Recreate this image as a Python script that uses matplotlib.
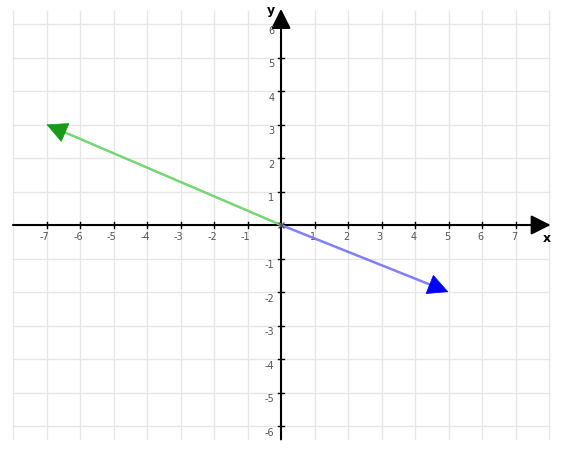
import matplotlib
matplotlib.use("Agg")
import matplotlib.pyplot as plt
import numpy as np

vec_ends_x = [-7, 5]
vec_ends_y = [3, -2]
vec_colors = ["#77d477", "#8080ff"]
head_colors = ["#1a9a1a", "#0000ff"]
xticks = [-7, -6, -5, -4, -3, -2, -1, 1, 2, 3, 4, 5, 6, 7]
yticks = [-6, -5, -4, -3, -2, -1, 1, 2, 3, 4, 5, 6]

fig = plt.figure(figsize=(5.63, 4.5), dpi=100)
ax = fig.add_axes([0, 0, 1, 1])
u = 33.5
ax.set_xlim(-281/u, (563-281)/u)
ax.set_ylim(-(450-225)/u, 225/u)
ax.axis("off")

gc = "#e6e6e6"
for gx in range(-8, 9):
    ax.plot([gx, gx], [-6.4, 6.4], color=gc, lw=1, zorder=0)
for gy in range(-6, 7):
    ax.plot([-8, 8], [gy, gy], color=gc, lw=1, zorder=0)

ax.annotate("", xy=(8.05, 0), xytext=(-8.0, 0),
            arrowprops=dict(arrowstyle="-|>,head_length=0.6,head_width=0.3", color="black", lw=1.5, mutation_scale=20, shrinkA=0, shrinkB=0))
ax.annotate("", xy=(0, 6.45), xytext=(0, -6.4),
            arrowprops=dict(arrowstyle="-|>,head_length=0.6,head_width=0.3", color="black", lw=1.5, mutation_scale=20, shrinkA=0, shrinkB=0))
for t in xticks:
    ax.plot([t, t], [-0.08, 0.08], color="black", lw=1)
    ax.text(t - 0.05, -0.22, str(t), fontsize=7, color="#555555", ha="center", va="top")
for t in yticks:
    ax.plot([-0.08, 0.08], [t, t], color="black", lw=1)
    ax.text(-0.2, t - 0.05, str(t), fontsize=7, color="#555555", ha="right", va="top")
ax.text(7.95, -0.22, "x", fontsize=9, fontweight="bold", ha="center", va="top")
ax.text(-0.3, 6.4, "y", fontsize=9, fontweight="bold", ha="center", va="center")

for x, y, c, hc in zip(vec_ends_x, vec_ends_y, vec_colors, head_colors):
    d = np.array([x, y], float); d /= np.linalg.norm(d)
    ax.plot([0, x - d[0]*0.3], [0, y - d[1]*0.3], color=c, lw=1.8, zorder=3)
    ax.annotate("", xy=(x, y), xytext=(x - d[0]*0.6, y - d[1]*0.6),
                arrowprops=dict(arrowstyle="-|>,head_length=0.7,head_width=0.35", color=hc, lw=0.5,
                                mutation_scale=20, shrinkA=0, shrinkB=0), zorder=4)
ax.plot(0, 0, marker="x", color="#555555", ms=5, zorder=5)

fig.savefig("out.png", dpi=100)
